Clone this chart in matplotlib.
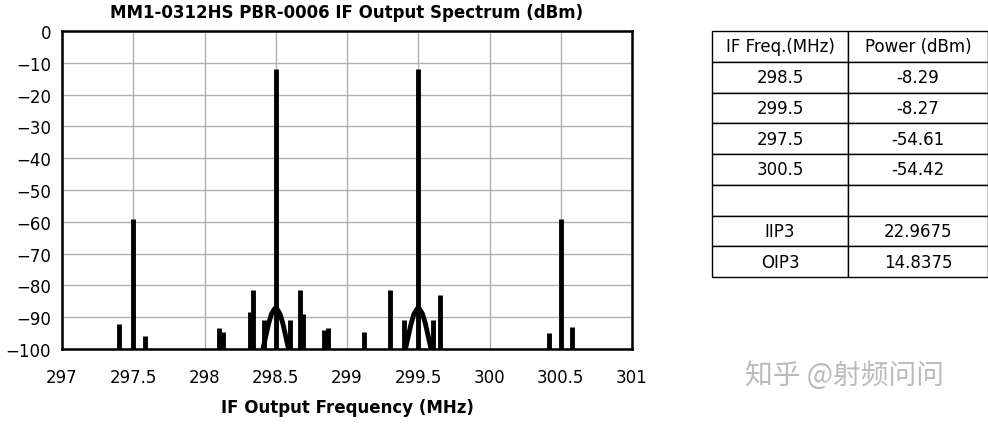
import matplotlib
matplotlib.use("Agg")
import matplotlib.pyplot as plt
import numpy as np

spike_freq = [297.4, 297.5, 297.58, 298.1, 298.13, 298.32, 298.34, 298.42, 298.5, 298.6,
              298.67, 298.69, 298.84, 298.87, 299.12, 299.3, 299.4, 299.5, 299.6, 299.65,
              300.42, 300.5, 300.58]
spike_level = [-92, -59, -96, -93.5, -94.5, -88.5, -81.5, -91, -12, -91,
               -81.5, -89, -94, -93.5, -94.5, -81.5, -91, -12, -91, -83,
               -95, -59, -93]
hump_offset = [-0.09, -0.05, -0.03, -0.01, 0.0, 0.01, 0.03, 0.05, 0.09]
hump_level = [-100, -92, -89, -87.5, -87, -87.5, -89, -92, -100]
carriers = [298.5, 299.5]

table_header = ["IF Freq.(MHz)", "Power (dBm)"]
table_rows = [["298.5", "-8.29"], ["299.5", "-8.27"], ["297.5", "-54.61"], ["300.5", "-54.42"],
              ["", ""], ["IIP3", "22.9675"], ["OIP3", "14.8375"]]

fig = plt.figure(figsize=(9.88, 4.27), dpi=100)
ax = fig.add_axes([62/988, 1-350/427, 570/988, 318/427])
ax.vlines(spike_freq, -100, spike_level, color="black", lw=3.5)
for c in carriers:
    ax.plot([c + o for o in hump_offset], hump_level, color="black", lw=3.5)
ax.set_xlim(297, 301)
ax.set_ylim(-100, 0)
ax.set_xticks(np.arange(297, 301.01, 0.5))
ax.set_xticklabels(["297", "297.5", "298", "298.5", "299", "299.5", "300", "300.5", "301"])
ax.set_yticks(np.arange(-100, 1, 10))
ax.grid(color="#b0b0b0", lw=1)
ax.tick_params(labelsize=12, length=0, pad=8)
ax.tick_params(axis="x", pad=14)
for s in ax.spines.values():
    s.set_linewidth(1.8)
ax.set_title("MM1-0312HS PBR-0006 IF Output Spectrum (dBm)", fontsize=12, fontweight="bold", pad=10)
ax.set_xlabel("IF Output Frequency (MHz)", fontsize=12, fontweight="bold", labelpad=8)

tax = fig.add_axes([712/988, 1-278/427, 276/988, 246/427])
tax.axis("off")
tbl = tax.table(cellText=[table_header] + table_rows, cellLoc="center",
                colWidths=[136/276, 140/276], bbox=[0, 0, 1, 1])
tbl.auto_set_font_size(False)
tbl.set_fontsize(12)

fig.text(0.855, 0.1, "知乎 @射频问问", fontsize=20, color="#bbbbbb", ha="center",
         family=["Noto Sans CJK SC", "DejaVu Sans"])
fig.savefig("out.png", dpi=100)
